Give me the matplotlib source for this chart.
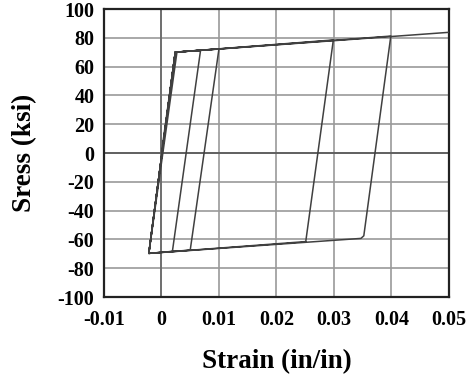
import matplotlib.pyplot as plt

# hysteresis path (strain in/in, stress ksi)
strain = [0.0, 0.0024, 0.0027, -0.0022, 0.0024, 0.0068, 0.0019, -0.0022,
          0.0024, 0.0100, 0.0050, -0.0022, 0.0024, 0.0299, 0.0251, -0.0022,
          0.0024, 0.0399, 0.0352, 0.0347, -0.0022, 0.0024, 0.0500]
stress = [0.0, 70.0, 70.3, -69.7, 70.0, 71.4, -68.3, -69.7,
          70.0, 72.3, -67.4, -69.7, 70.0, 78.5, -61.5, -69.7,
          70.0, 81.2, -57.5, -59.3, -69.7, 70.0, 83.8]

x_ticks = [-0.01, 0, 0.01, 0.02, 0.03, 0.04, 0.05]
x_labels = ['-0.01', '0', '0.01', '0.02', '0.03', '0.04', '0.05']
y_ticks = list(range(-100, 101, 20))
y_labels = [str(v) for v in y_ticks]

plt.rcParams['font.family'] = 'Liberation Serif'
plt.rcParams['font.weight'] = 'bold'

fig = plt.figure(figsize=(4.74, 3.83), dpi=100)
ax = fig.add_axes([0.2194, 0.2245, 0.7276, 0.752])

ax.set_xlim(-0.01, 0.05)
ax.set_ylim(-100, 100)
ax.set_xticks(x_ticks)
ax.set_xticklabels(x_labels)
ax.set_yticks(y_ticks)
ax.set_yticklabels(y_labels)
ax.grid(True, color='#9a9a9a', linewidth=1.2)
ax.axhline(0, color='#555555', linewidth=1.2, zorder=1)
ax.axvline(0, color='#666666', linewidth=1.2, zorder=1)
ax.set_axisbelow(True)

ax.plot(strain, stress, color='#404040', linewidth=1.1, zorder=3)

for sp in ax.spines.values():
    sp.set_linewidth(1.6)
    sp.set_color('#222222')

ax.tick_params(length=0, labelsize=14.5)
ax.tick_params(axis='y', pad=7)
ax.tick_params(axis='x', pad=9)
for lab in ax.get_xticklabels() + ax.get_yticklabels():
    lab.set_fontweight('bold')

ax.set_xlabel('Strain (in/in)', fontsize=19.5, fontweight='bold', labelpad=14)
ax.set_ylabel('Sress (ksi)', fontsize=19.5, fontweight='bold', labelpad=15)

fig.savefig('out.png', dpi=100)
